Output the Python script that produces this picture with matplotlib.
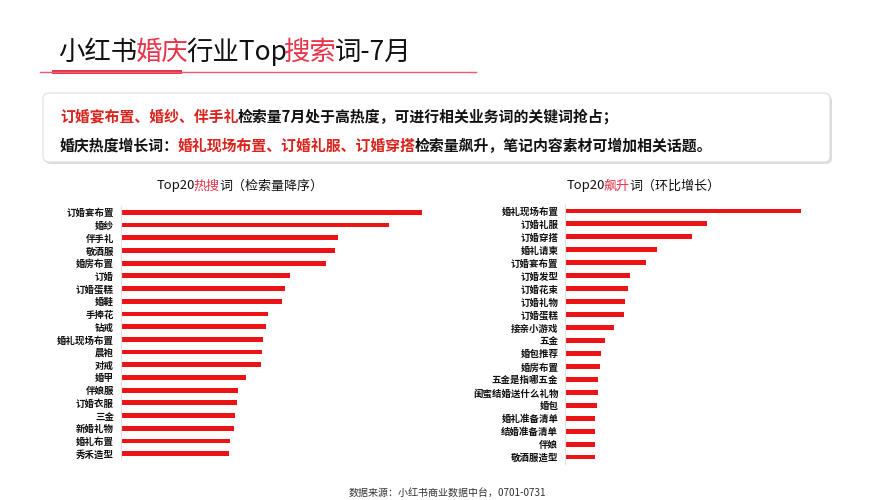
import matplotlib.pyplot as plt
from matplotlib.patches import FancyBboxPatch, Rectangle

# Fonts (CJK first, DejaVu as fallback)
plt.rcParams['font.family'] = ['Noto Sans CJK SC', 'DejaVu Sans']

# Colours
black = '#111111'
title_red = '#e8334a'
text_red = '#d9231d'
bar_red = '#ec1316'

# Data: Top20 hot search words (search volume, descending)
hot_words = ['订婚宴布置', '婚纱', '伴手礼', '敬酒服', '婚房布置', '订婚', '订婚蛋糕', '婚鞋',
             '手捧花', '钻戒', '婚礼现场布置', '晨袍', '对戒', '婚甲', '伴娘服', '订婚衣服',
             '三金', '新婚礼物', '婚礼布置', '秀禾造型']
hot_values = [301, 268, 217, 214, 205, 169, 164, 161, 147, 145,
              142, 141, 140, 125, 117, 116, 114, 113, 109, 108]

# Data: Top20 rising words (month-on-month growth)
rise_words = ['婚礼现场布置', '订婚礼服', '订婚穿搭', '婚礼请柬', '订婚宴布置', '订婚发型', '订婚花束',
              '订婚礼物', '订婚蛋糕', '接亲小游戏', '五金', '婚包推荐', '婚房布置', '五金是指哪五金',
              '闺蜜结婚送什么礼物', '婚包', '婚礼准备清单', '结婚准备清单', '伴娘', '敬酒服造型']
rise_values = [236, 142, 127, 92, 81, 65, 63, 60, 59, 49,
               40, 36, 35, 33, 33, 32, 30, 30, 29.5, 29.5]

# Texts (split into coloured parts)
title_parts = [('小红书', black), ('婚庆', title_red), ('行业Top', black), ('搜索', title_red), ('词-7月', black)]
note1_parts = [('订婚宴布置、婚纱、伴手礼', text_red), ('检索量7月处于高热度，可进行相关业务词的关键词抢占；', black)]
note2_parts = [('婚庆热度增长词：', black), ('婚礼现场布置、订婚礼服、订婚穿搭', text_red),
               ('检索量飙升，笔记内容素材可增加相关话题。', black)]
hot_title_parts = [('Top20', black), ('热搜', title_red), ('词（检索量降序）', black)]
rise_title_parts = [('Top20', black), ('飙升', title_red), ('词（环比增长）', black)]
source_text = '数据来源：小红书商业数据中台，0701-0731'

fig = plt.figure(figsize=(8.92, 5.0), dpi=100)
fig.patch.set_facecolor('white')

# Background axes in pixel coordinates
bg = fig.add_axes([0, 0, 1, 1])
bg.set_xlim(0, 892)
bg.set_ylim(500, 0)
bg.axis('off')


# Draw a line of text made of several coloured parts, left to right
def draw_parts(x, y, parts, size, weight='normal'):
    prev = bg.text(x, y, parts[0][0], color=parts[0][1], fontsize=size,
                   weight=weight, ha='left', va='center')
    last = parts[0][0]
    for text, color in parts[1:]:
        # Each part's box leaves a small gap at its end, pull the next part back a bit
        kern = -0.12 * size if last[-1].isascii() else -0.07 * size
        prev = bg.annotate(text, xy=(1, 0), xycoords=prev, xytext=(kern, 0),
                           textcoords='offset points', color=color, fontsize=size,
                           weight=weight, ha='left', va='bottom')
        last = text


# Title and underline
draw_parts(58, 52, title_parts, 19)
bg.plot([40, 476], [71.7, 71.7], color='#ea5a70', lw=1.0)
bg.add_patch(Rectangle((52, 69.5), 130, 4.5, color=title_red, lw=0))

# Summary box with shadow
bg.add_patch(FancyBboxPatch((45, 95), 787, 69, boxstyle='round,pad=0,rounding_size=6',
                            facecolor='#cfcfcf', edgecolor='none', alpha=0.7))
bg.add_patch(FancyBboxPatch((43, 93), 787, 69, boxstyle='round,pad=0,rounding_size=6',
                            facecolor='white', edgecolor='#dedede', lw=0.8))
draw_parts(60, 117, note1_parts, 10.7, 'bold')
draw_parts(60, 146, note2_parts, 10.7, 'bold')


# Horizontal bar chart
def draw_bars(rect, words, values):
    ax = fig.add_axes(rect)
    pos = range(len(words))
    ax.barh(pos, values, height=0.38, color=bar_red)
    ax.set_ylim(len(words) - 0.5, -0.5)
    ax.set_xlim(0, 320)
    ax.set_yticks(list(pos), words, fontsize=6.8, weight='bold', color=black)
    ax.tick_params(axis='y', length=0, pad=5)
    ax.set_xticks([])
    for side in ['top', 'right', 'bottom']:
        ax.spines[side].set_visible(False)
    ax.spines['left'].set_color('#e2e2e2')
    ax.spines['left'].set_linewidth(0.8)
    ax.patch.set_alpha(0)
    return ax


draw_bars([121 / 892, 0.08, 320 / 892, 0.508], hot_words, hot_values)
draw_bars([565.3 / 892, 0.073, 320 / 892, 0.518], rise_words, rise_values)

# Chart titles
draw_parts(157, 186, hot_title_parts, 9.4)
draw_parts(567, 186, rise_title_parts, 9.4)

# Source
bg.text(447, 493, source_text, fontsize=7.2, color='#333333', ha='center', va='center')

fig.savefig('out.png', dpi=100)
